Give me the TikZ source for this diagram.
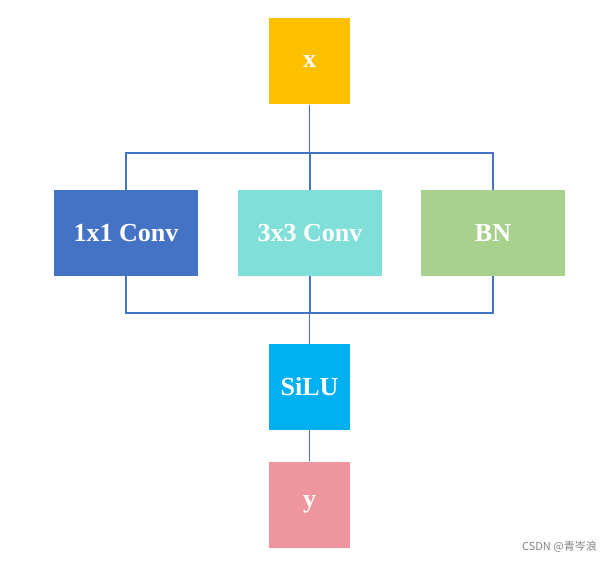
\documentclass[tikz,border=0pt]{standalone}
\usepackage{fontspec}
\setmainfont{Liberation Serif}
\newfontfamily\cjk{Noto Sans CJK SC}
\definecolor{cx}{HTML}{FFC000}
\definecolor{cone}{HTML}{4472C4}
\definecolor{cthree}{HTML}{80DFD8}
\definecolor{cbn}{HTML}{A9D18E}
\definecolor{csilu}{HTML}{00B0F0}
\definecolor{cy}{HTML}{EE959E}
\begin{document}
\begin{tikzpicture}[x=1pt,y=-1pt,
 blk/.style={minimum height=86pt,text=white,font=\fontsize{26}{30}\selectfont\bfseries,inner sep=0pt},
 wire/.style={draw=cone,line width=1.5pt}]
\useasboundingbox (0,0) rectangle (612,564);
\node[blk,fill=cx,minimum width=81pt] (x) at (309.5,61.5) {x};
\node[blk,fill=cone,minimum width=144pt] (c1) at (126,233) {1x1 Conv};
\node[blk,fill=cthree,minimum width=144pt] (c3) at (310,233) {3x3 Conv};
\node[blk,fill=cbn,minimum width=144pt] (bn) at (493,233) {BN};
\node[blk,fill=csilu,minimum width=81pt] (s) at (309.5,387) {SiLU};
\node[blk,fill=cy,minimum width=81pt] (y) at (309.5,504.5) {y};
\coordinate (t) at (309.5,153);
\coordinate (b) at (309.5,313);
\draw[wire] (x.south) -- (t);
\draw[wire] (c1.north) |- (t) -| (bn.north);
\draw[wire] (c3.north) -- (c3.north |- t);
\draw[wire] (c1.south) |- (b) -| (bn.south);
\draw[wire] (c3.south) -- (c3.south |- b);
\draw[wire] (b) -- (s.north);
\draw[wire] (s.south) -- (y.north);
\node[anchor=east,text=gray,font=\cjk\fontsize{11}{13}\selectfont,inner sep=0pt] (w) at (597,547) {CSDN @青岑浪};
\end{tikzpicture}
\end{document}
